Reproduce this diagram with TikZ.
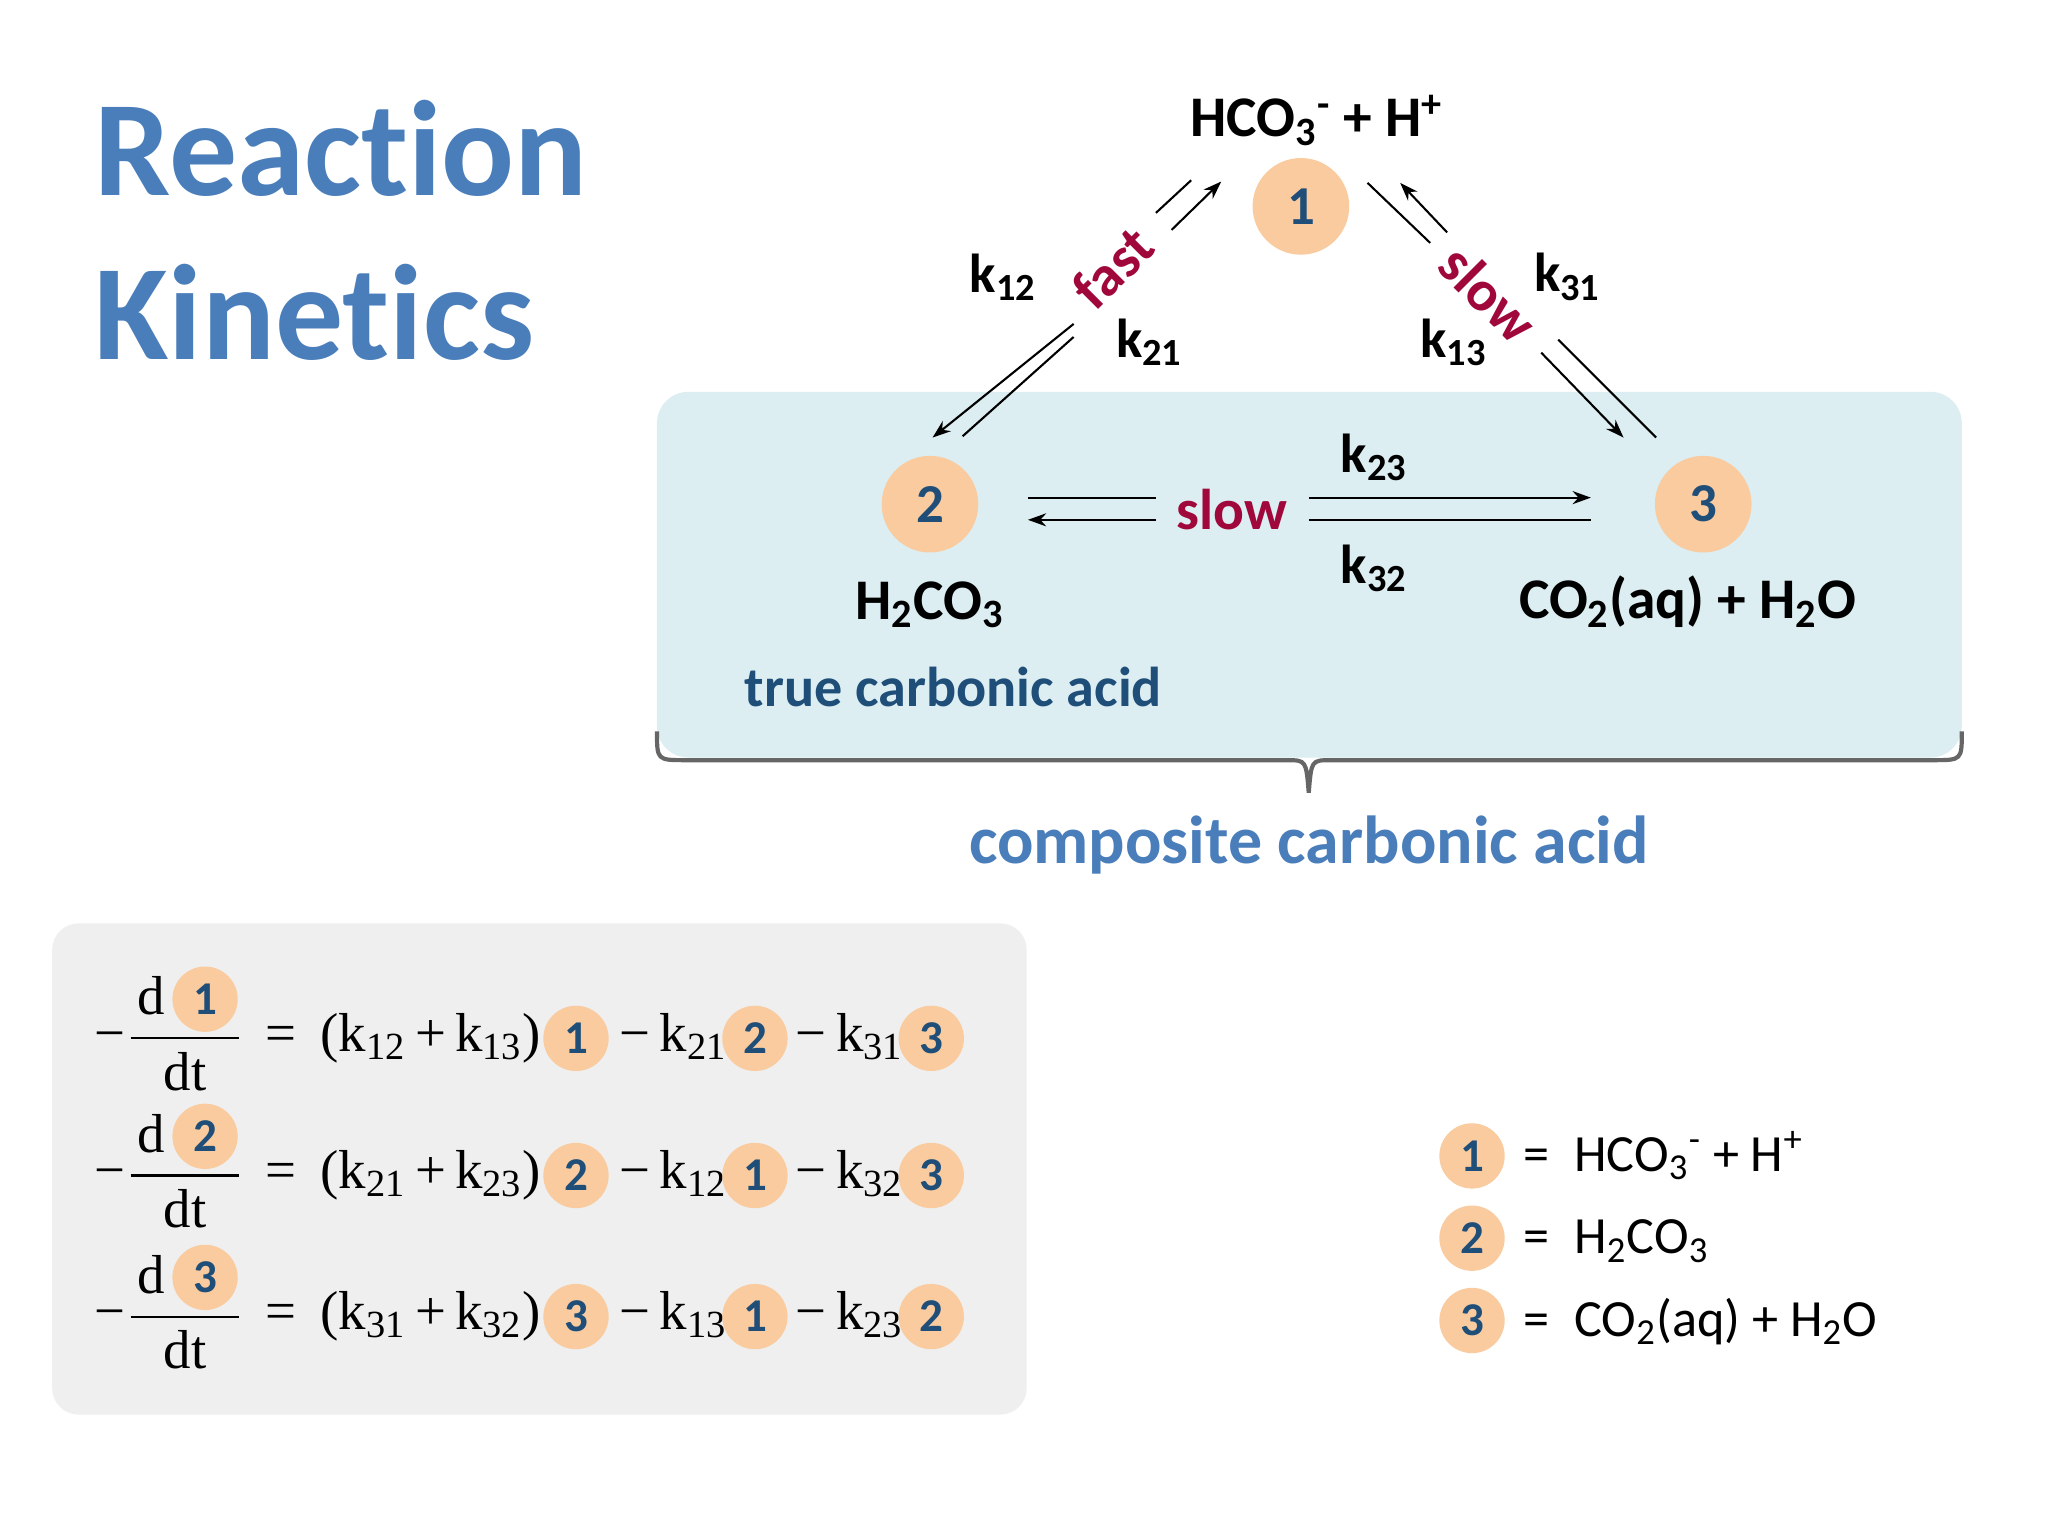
\documentclass[tikz,border=0pt]{standalone}
\usepackage{fontspec}
\setmainfont[Ligatures=NoCommon]{Carlito}
\newfontfamily\eqf{Liberation Serif}
\usetikzlibrary{arrows.meta}
\definecolor{tblue}{HTML}{4A7EBB}
\definecolor{dblue}{HTML}{1F4E79}
\definecolor{peach}{HTML}{F9CB9F}
\definecolor{boxc}{HTML}{DCEEF2}
\definecolor{greyb}{HTML}{EFEFEF}
\definecolor{dred}{HTML}{A0073A}
\tikzset{
 bigc/.style={circle,fill=peach,minimum size=37pt,inner sep=0pt,text=dblue,font=\fontsize{21}{21}\selectfont\bfseries},
 smc/.style={circle,fill=peach,minimum size=25pt,inner sep=0pt,text=dblue,font=\fontsize{18}{18}\selectfont\bfseries},
 lab/.style={font=\fontsize{22}{24}\selectfont\bfseries,inner sep=0pt},
 kl/.style={font=\fontsize{21}{22}\selectfont\bfseries,inner sep=0pt},
 red/.style={text=dred,font=\fontsize{22}{24}\selectfont\bfseries,inner sep=0pt},
 ar/.style={-{Stealth[length=7pt,width=5pt]},line width=0.8pt},
 pl/.style={line width=0.8pt},
 eq/.style={font=\fontsize{21}{22}\selectfont\eqf,inner sep=0pt,anchor=base west},
 leg/.style={font=\fontsize{20}{22}\selectfont,inner sep=0pt,anchor=base west},
}
\begin{document}
\begin{tikzpicture}[x=0.5pt,y=-0.5pt]
\useasboundingbox (0,0) rectangle (1568,1176);
\fill[white] (0,0) rectangle (1568,1176);
% title
\node[anchor=base west,text=tblue,font=\fontsize{52}{56}\selectfont\bfseries,inner sep=0pt] (t1) at (72,150) {Reaction};
\node[anchor=base west,text=tblue,font=\fontsize{52}{56}\selectfont\bfseries,inner sep=0pt] (t2) at (72,275) {Kinetics};
% blue box
\fill[boxc,rounded corners=12pt] (503,300) rectangle (1502,580);
\draw[gray!80!black,line width=1.6pt] (503,560) .. controls (503,582) .. (525,582) -- (985,582) .. controls (1000,582) .. (1002,607) .. controls (1004,582) .. (1019,582) -- (1480,582) .. controls (1502,582) .. (1502,560);
\node[text=tblue,font=\fontsize{26}{28}\selectfont\bfseries,inner sep=0pt] (comp) at (1002,647) {composite carbonic acid};
% circles
\node[bigc] (c1) at (996,158) {1};
\node[bigc] (c2) at (712,386) {2};
\node[bigc] (c3) at (1304,386) {3};
\node[lab] (l1) at (1008,92) {HCO\textsubscript{3}\textsuperscript{-} + H\textsuperscript{+}};
\node[lab] (l2) at (712,463) {H\textsubscript{2}CO\textsubscript{3}};
\node[lab] (l3) at (1292,461) {CO\textsubscript{2}(aq) + H\textsubscript{2}O};
\node[text=dblue,font=\fontsize{21.5}{23}\selectfont\bfseries,inner sep=0pt] (tca) at (730,526) {true carbonic acid};
% arrows
\coordinate (a1) at (885,163); \coordinate (a2) at (912,138);
\coordinate (a3) at (897,176); \coordinate (a4) at (935,139);
\coordinate (a5) at (822,248); \coordinate (a6) at (714,335);
\coordinate (a7) at (737,334); \coordinate (a8) at (822,258);
\draw[pl] (a1) -- (a2); \draw[ar] (a3) -- (a4);
\draw[ar] (a5) -- (a6); \draw[pl] (a7) -- (a8);
\coordinate (b1) at (1108,178); \coordinate (b2) at (1072,140);
\coordinate (b3) at (1047,140); \coordinate (b4) at (1095,186);
\coordinate (b5) at (1193,260); \coordinate (b6) at (1268,335);
\coordinate (b7) at (1180,270); \coordinate (b8) at (1243,335);
\draw[ar] (b1) -- (b2); \draw[pl] (b3) -- (b4);
\draw[pl] (b5) -- (b6); \draw[ar] (b7) -- (b8);
\coordinate (h1) at (1002,381); \coordinate (h2) at (1218,381);
\coordinate (h3) at (787,381); \coordinate (h4) at (885,381);
\coordinate (h5) at (885,398); \coordinate (h6) at (787,398);
\coordinate (h7) at (1002,398); \coordinate (h8) at (1218,398);
\draw[ar] (h1) -- (h2); \draw[pl] (h3) -- (h4);
\draw[ar] (h5) -- (h6); \draw[pl] (h7) -- (h8);
\node[red,rotate=45] (fast) at (852,205) {fast};
\node[red,rotate=-45] (slow1) at (1140,225) {slow};
\node[red] (slow2) at (943,390) {slow};
\node[kl] (k12) at (768,212) {k\textsubscript{12}};
\node[kl] (k21) at (880,262) {k\textsubscript{21}};
\node[kl] (k31) at (1200,212) {k\textsubscript{31}};
\node[kl] (k13) at (1113,262) {k\textsubscript{13}};
\node[kl] (k23) at (1052,350) {k\textsubscript{23}};
\node[kl] (k32) at (1052,435) {k\textsubscript{32}};
% equations box
\fill[greyb,rounded corners=10pt] (40,707) rectangle (786,1083);
\foreach \c/\n/\a/\b/\o/\p/\q/\r/\s [count=\i] in {795/1/12/13/1/21/2/31/3, 900/2/21/23/2/12/1/32/3, 1008/3/31/32/3/13/1/23/2}{
 \node[eq] (m\i) at (72,\c+10) {−};
 \node[eq] (d\i) at (105,\c-18) {d};
 \node[smc] (n\i) at (157,\c-30) {\n};
 \draw[line width=0.8pt] (100,\c) -- (183,\c);
 \node[eq] (dt\i) at (125,\c+40) {dt};
 \node[eq] (e\i) at (203,\c+10) {=};
 \node[eq] (p\i) at (245,\c+10) {(k\textsubscript{\a}\,+\,k\textsubscript{\b})};
 \node[smc] (o\i) at (441,\c) {\o};
 \node[eq] (q\i) at (474,\c+10) {−\,k\textsubscript{\p}};
 \node[smc] (s\i) at (578,\c) {\q};
 \node[eq] (r\i) at (609,\c+10) {−\,k\textsubscript{\r}};
 \node[smc] (u\i) at (713,\c) {\s};
}
% legend
\node[smc] (g1) at (1127,885) {1};
\node[smc] (g2) at (1127,948) {2};
\node[smc] (g3) at (1127,1011) {3};
\node[leg] (ge1) at (1166,897) {=};
\node[leg] (ge2) at (1166,960) {=};
\node[leg] (ge3) at (1166,1023) {=};
\node[leg] (gt1) at (1205,897) {HCO\textsubscript{3}\textsuperscript{-} + H\textsuperscript{+}};
\node[leg] (gt2) at (1205,960) {H\textsubscript{2}CO\textsubscript{3}};
\node[leg] (gt3) at (1205,1023) {CO\textsubscript{2}(aq) + H\textsubscript{2}O};
\end{tikzpicture}
\end{document}
